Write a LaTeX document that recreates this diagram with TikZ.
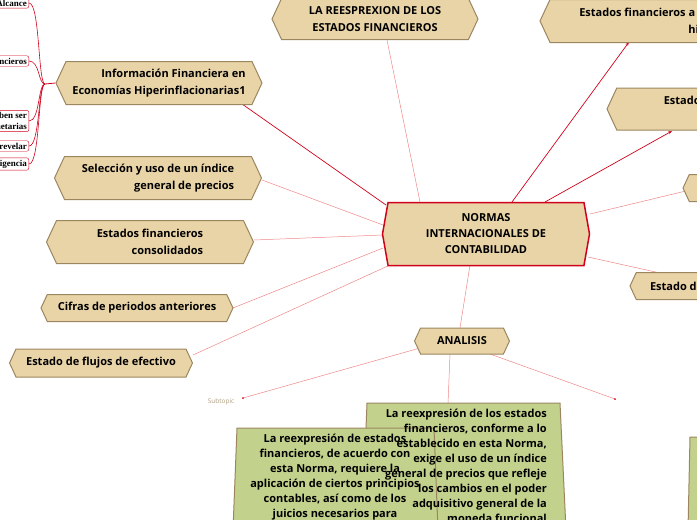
\documentclass[tikz,border=0pt]{standalone}
\usepackage{fontspec}
\setmainfont{Open Sans}
\newfontfamily\serifx{Liberation Serif}
\usetikzlibrary{shapes.symbols,arrows.meta}
\definecolor{beige}{HTML}{E9D4A7}
\definecolor{beigeb}{HTML}{9C8660}
\definecolor{greenf}{HTML}{C2D18C}
\definecolor{lred}{HTML}{EE8888}
\definecolor{dred}{HTML}{D0021B}
\tikzset{
 topic/.style={signal, signal to=west and east, signal pointer angle=130, draw=beigeb, line width=1pt, fill=beige, font=\fontsize{11}{17}\selectfont\bfseries, align=right, inner sep=1pt},
 sub/.style={draw=dred, fill=white, rounded corners=2pt, font=\serifx\fontsize{9}{11}\selectfont\bfseries, align=right, inner sep=2pt, anchor=east},
 thin/.style={draw=lred, line width=0.5pt},
 arr/.style={draw=dred, line width=0.7pt, -{Stealth[length=4pt,width=3pt]}},
 gbox/.style={fill=greenf, draw=beigeb, line width=1pt},
 gtext/.style={font=\fontsize{11}{15}\selectfont\bfseries, inner sep=0pt},
}
\begin{document}
\begin{tikzpicture}[x=1pt,y=-1pt]
\useasboundingbox (0,0) rectangle (697,520);
\clip (0,0) rectangle (697,520);
% connectors
\coordinate (hub) at (45,84);
\draw[thin] (420,202) -- (387,40);
\draw[thin] (383,225) -- (262,180);
\draw[thin] (383,235) -- (254,240);
\draw[thin] (383,248) -- (233,308);
\draw[thin] (390,265) -- (193,355);
\draw[thin] (590,214) -- (690,190);
\draw[thin] (588,257) -- (660,273);
\draw[thin] (470,265) -- (460,328);
\draw[thin] (450,354) -- (448,404);
\draw[thin] (420,348) -- (243,398);
\draw[thin] (490,354) -- (615,399);
\fill[dred] (243,398) circle (1pt) (615,399) circle (1pt);
\draw[arr] (386,205) -- (205,78);
\draw[arr] (512,202) -- (629,42);
\draw[arr] (545,202) -- (672,131);
% central
\node[signal, signal to=west and east, signal pointer angle=160, draw=dred, line width=1.5pt, fill=beige, minimum width=207pt, minimum height=63pt, font=\fontsize{11}{16}\selectfont\bfseries, align=center, inner sep=0pt] (c) at (486,234) {NORMAS\\INTERNACIONALES DE\\CONTABILIDAD};
% topics
\node[topic, minimum width=206pt, minimum height=41pt, align=center] (t1) at (375,19) {LA REESPREXION DE LOS\\ESTADOS FINANCIEROS};
\node[topic, minimum width=220pt, minimum height=43pt, align=left] (t2) at (650,21) {\hspace*{16pt}Estados financieros a costo\\\hspace*{125pt}histórico};
\node[topic, minimum width=200pt, minimum height=42pt, align=left] (t3) at (707,109) {\hspace*{20pt}Estados financieros\\~};
\node[topic, minimum width=60pt, minimum height=27pt] (t4) at (713,188) {~};
\node[topic, minimum width=150pt, minimum height=27pt, align=left] (t5) at (705,286) {\hspace*{4pt}Estado de resultados};
\node[topic, minimum width=206pt, minimum height=43pt] (info) at (159,83) {Información Financiera en\\Economías Hiperinflacionarias1};
\node[topic, minimum width=207pt, minimum height=43pt] (sel) at (158,178) {Selección y uso de un índice\\general de precios};
\node[topic, minimum width=207pt, minimum height=43pt] (cons) at (150,242) {Estados financieros\\consolidados};
\node[topic, minimum width=192pt, minimum height=27pt, align=center] (cif) at (137,308) {Cifras de periodos anteriores};
\node[topic, minimum width=183pt, minimum height=28pt, align=center] (flu) at (101,363) {Estado de flujos de efectivo};
\node[topic, minimum width=95pt, minimum height=26pt, align=center] (an) at (462,341) {ANALISIS};
\node[font=\fontsize{6.5}{8}\selectfont, text=beigeb!80] (st) at (221,402) {Subtopic};
% left sub nodes
\node[sub] (s1) at (29,3) {Alcance};
\node[sub] (s2) at (29,61) {Estados financieros};
\node[sub] (s3) at (29,121) {Partidas que deben ser\\monetarias};
\node[sub] (s4) at (29,146) {Información a revelar};
\node[sub] (s5) at (29,164) {Vigencia};
\draw[dred, line width=0.8pt] (info.west) -- (hub);
\foreach \s in {s1,s2,s3,s4,s5}{\draw[dred, line width=0.6pt] (hub) .. controls (38,84) and (40,0|-\s.east) .. (\s.east);}
% green boxes
\draw[gbox] (367,403) -- (560,403) -- (566,530) -- (362,530) -- cycle;
\draw[gbox] (237,428) -- (434,428) -- (438,530) -- (233,530) -- cycle;
\draw[gbox] (690,437) -- (720,437) -- (720,530) -- (688,530) -- cycle;
\node[gtext, align=right, anchor=north east] (g1) at (547,409) {La reexpresión de los estados\\financieros, conforme a lo\\establecido en esta Norma,\\exige el uso de un índice\\general de precios que refleje\\los cambios en el poder\\adquisitivo general de la\\moneda funcional};
\node[gtext, align=center, anchor=north] (g2) at (335,434) {La reexpresión de estados\\financieros, de acuerdo con\\esta Norma, requiere la\\aplicación de ciertos principios\\contables, así como de los\\juicios necesarios para};
\end{tikzpicture}
\end{document}
